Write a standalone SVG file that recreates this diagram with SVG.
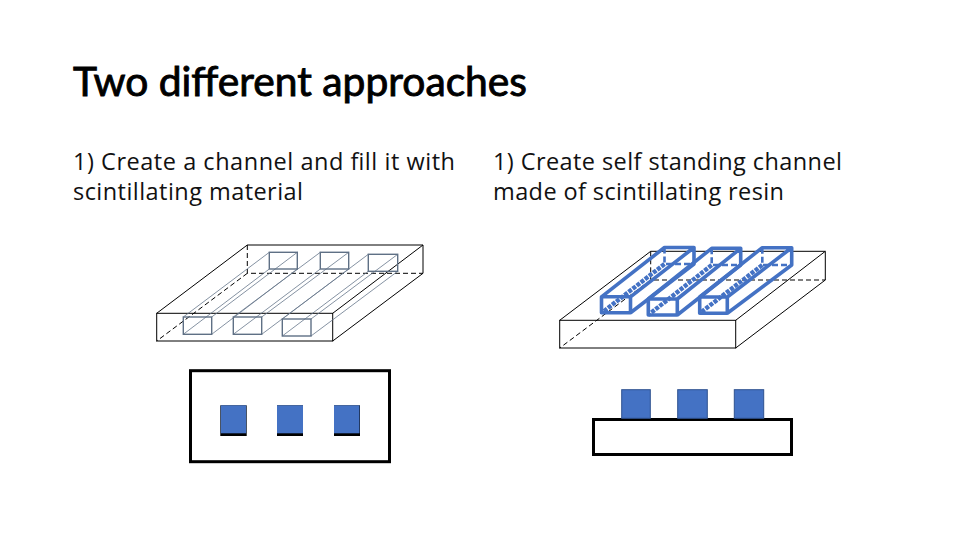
<svg xmlns="http://www.w3.org/2000/svg" width="960" height="540" viewBox="0 0 960 540">
<style>
.title{font-family:Lato,"Liberation Sans",sans-serif;font-size:40px;fill:#000;stroke:#000;stroke-width:.9}
.body{font-family:"Open Sans","Noto Sans",sans-serif;font-size:23.5px;fill:#111}
.k{fill:none;stroke:#000;stroke-width:1}
.d{fill:none;stroke:#000;stroke-width:1;stroke-dasharray:5 3}
.g{fill:none;stroke:#5f7085;stroke-width:1.4}
.gl{fill:none;stroke:#66768a;stroke-width:.8}
.b{fill:none;stroke:#4472c4;stroke-width:3.6;stroke-linejoin:round}
.bd{fill:none;stroke:#4472c4;stroke-width:4.4;stroke-dasharray:4 1.2}
.bf{fill:none;stroke:#4472c4;stroke-width:2.6;stroke-dasharray:6 3}
.sq{fill:#4472c4}
.thick{fill:#fff;stroke:#000;stroke-width:3}
</style>
<rect width="960" height="540" fill="#fff"/>
<g id="title"><text class="title" x="73" y="96" textLength="454" lengthAdjust="spacingAndGlyphs">Two different approaches</text></g>
<g id="text-left"><text class="body" x="73" y="170" textLength="382" lengthAdjust="spacing">1) Create a channel and fill it with</text><text class="body" x="73" y="200" textLength="230" lengthAdjust="spacing">scintillating material</text></g>
<g id="text-right"><text class="body" x="493" y="170" textLength="349" lengthAdjust="spacing">1) Create self standing channel</text><text class="body" x="493" y="200" textLength="291" lengthAdjust="spacing">made of scintillating resin</text></g>
<g id="block-left">
<path class="d" d="M247.3 245V273.3H423M247.3 273.3L156.7 341"/>
<path class="k" d="M247.3 245H423V273.3L332.7 341M423 245L332.7 313.3M247.3 245L156.7 313.3"/>
<rect class="k" x="156.7" y="313.3" width="176" height="27.7"/>
</g>
<g id="channels-left">
<path class="gl" d="M269.3 252.3L183.3 317M297.3 252.3L211.7 317M269.3 269L183.3 334.3M297.3 269L211.7 334.3M320.3 252.3L233.3 317M348.7 252.3L261.7 317M320.3 269L233.3 334.3M348.7 269L261.7 334.3M368.3 254.3L282.3 319M397.7 254.3L311 319M368.3 271.3L282.3 336M397.7 271.3L311 336"/>
<rect class="g" x="269.3" y="252.3" width="28" height="16.7"/><rect class="g" x="320.3" y="252.3" width="28.4" height="16.7"/><rect class="g" x="368.3" y="254.3" width="29.4" height="17"/>
<rect class="g" x="183.3" y="317" width="28.4" height="17.3"/><rect class="g" x="233.3" y="317" width="28.4" height="17.3"/><rect class="g" x="282.3" y="319" width="28.7" height="17"/>
</g>
<g id="section-left">
<rect class="thick" x="190.5" y="370.7" width="199" height="91"/>
<rect x="220.3" y="405.3" width="26.4" height="30.7" fill="#000"/><rect class="sq" x="220.8" y="405.3" width="25.4" height="28"/>
<rect x="277" y="405.3" width="26" height="30.7" fill="#000"/><rect class="sq" x="277" y="405.3" width="26" height="28"/>
<rect x="334" y="405.3" width="26" height="30.7" fill="#000"/><rect class="sq" x="334" y="405.3" width="25.5" height="28"/>
</g>
<g id="block-right">
<path class="d" d="M650.7 251.3V280H825.3M650.7 280L559.7 348"/>
<path class="k" d="M650.7 251.3H825.3V280L735.7 348M825.3 251.3L735.7 320.3M650.7 251.3L559.7 320.3"/>
<rect class="k" x="559.7" y="320.3" width="176" height="27.7"/>
</g>
<g id="channels-right">
<path class="bd" d="M664.5 264L602 312.7M711.7 265L648.3 315M762.3 265L699.7 313.3"/>
<path class="bf" d="M664.5 247.5V264H694M711.7 248.3V265H740.7M762.3 247.7V265H791.7"/>
<path class="b" d="M601.5 296.8H630.5V312.8H601.5ZM601.5 296.8L664.5 247.5H694V264L630.5 312.8M630.5 296.8L694 247.5"/>
<path class="b" d="M648.3 299H677.3V315H648.3ZM648.3 299L711.7 248.3H740.7V265L677.3 315M677.3 299L740.7 248.3"/>
<path class="b" d="M699.7 297H727.3V313.3H699.7ZM699.7 297L762.3 247.7H791.7V265L727.3 313.3M727.3 297L791.7 247.7"/>
</g>
<g id="section-right">
<rect class="thick" x="593.5" y="419.5" width="198" height="35"/>
<rect class="sq" x="621.7" y="389.7" width="28.6" height="28.6" stroke="#2f528f"/>
<rect class="sq" x="677.7" y="389.7" width="29.6" height="28.6" stroke="#2f528f"/>
<rect class="sq" x="734.3" y="389.7" width="29.4" height="28.6" stroke="#2f528f"/>
</g>
</svg>
